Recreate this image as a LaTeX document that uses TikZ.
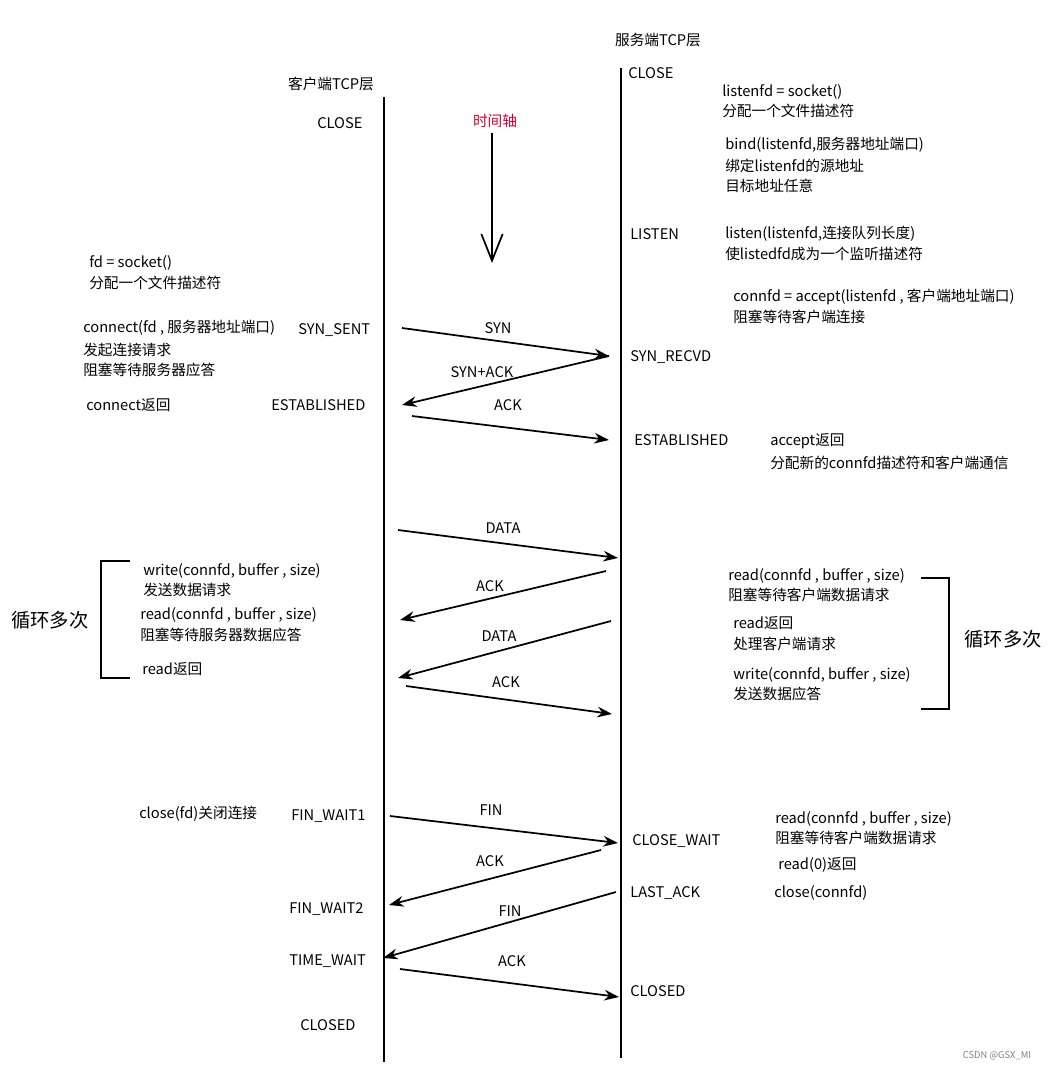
\documentclass[tikz,border=0pt]{standalone}
\usepackage{fontspec}
\setmainfont{Noto Sans CJK SC}
\usetikzlibrary{arrows.meta}
\begin{document}
\begin{tikzpicture}[x=0.75pt,y=-0.75pt,
  t/.style={anchor=west,inner sep=0pt,font=\fontsize{11}{13}\selectfont},
  lab/.style={inner sep=0pt,font=\fontsize{11}{13}\selectfont},
  msg/.style={line width=1.3pt,-{Stealth[length=11pt,width=8pt]}},
  big/.style={inner sep=0pt,font=\fontsize{14.5}{17}\selectfont},
  brk/.style={line width=1.3pt}]
\useasboundingbox (0,0) rectangle (1054,1072);
% life lines
\coordinate (c0) at (384,97); \coordinate (c1) at (384,1062);
\coordinate (s0) at (621,68); \coordinate (s1) at (621,1058);
\draw[line width=1.3pt] (c0) -- (c1);
\draw[line width=1.3pt] (s0) -- (s1);
\node[lab] (hs) at (658,40) {服务端TCP层};
\node[lab] (hc) at (331,84) {客户端TCP层};
% time axis
\node[lab,text=red!80!blue] (tl) at (495,121) {时间轴};
\coordinate (ta) at (492,133); \coordinate (tb) at (492,263);
\draw[line width=1.3pt,-{Straight Barb[length=20pt,width=16pt,line width=1.3pt]}] (ta) -- (tb);
% server texts
\node[t] (n1) at (628,73) {CLOSE};
\node[t] (n2) at (722,92) {listenfd = socket()};
\node[t] (n3) at (722,111) {分配一个文件描述符};
\node[t] (n4) at (725,145) {bind(listenfd,服务器地址端口)};
\node[t] (n5) at (725,166) {绑定listenfd的源地址};
\node[t] (n6) at (725,186) {目标地址任意};
\node[t] (n7) at (630,234) {LISTEN};
\node[t] (n8) at (725,234) {listen(listenfd,连接队列长度)};
\node[t] (n9) at (725,254) {使listedfd成为一个监听描述符};
\node[t] (n10) at (733,297) {connfd = accept(listenfd , 客户端地址端口)};
\node[t] (n11) at (733,317) {阻塞等待客户端连接};
\node[t] (n12) at (630,357) {SYN\_RECVD};
\node[t] (n13) at (634,440) {ESTABLISHED};
\node[t] (n14) at (770,441) {accept返回};
\node[t] (n15) at (770,463) {分配新的connfd描述符和客户端通信};
\node[t] (n16) at (728,576) {read(connfd , buffer , size)};
\node[t] (n17) at (728,595) {阻塞等待客户端数据请求};
\node[t] (n18) at (733,623) {read返回};
\node[t] (n19) at (733,644) {处理客户端请求};
\node[t] (n20) at (733,675) {write(connfd, buffer , size)};
\node[t] (n21) at (733,694) {发送数据应答};
\node[t] (n22) at (632,841) {CLOSE\_WAIT};
\node[t] (n23) at (775,819) {read(connfd , buffer , size)};
\node[t] (n24) at (775,838) {阻塞等待客户端数据请求};
\node[t] (n25) at (778,865) {read(0)返回};
\node[t] (n26) at (630,893) {LAST\_ACK};
\node[t] (n27) at (774,893) {close(connfd)};
\node[t] (n28) at (630,991) {CLOSED};
% client texts
\node[t] (m1) at (317,123) {CLOSE};
\node[t] (m2) at (89,263) {fd = socket()};
\node[t] (m3) at (89,283) {分配一个文件描述符};
\node[t] (m4) at (83,328) {connect(fd , 服务器地址端口)};
\node[t] (m5) at (83,350) {发起连接请求};
\node[t] (m6) at (83,370) {阻塞等待服务器应答};
\node[t] (m7) at (298,330) {SYN\_SENT};
\node[t] (m8) at (86,405) {connect返回};
\node[t] (m9) at (271,405) {ESTABLISHED};
\node[t] (m10) at (143,571) {write(connfd, buffer , size)};
\node[t] (m11) at (143,590) {发送数据请求};
\node[t] (m12) at (140,615) {read(connfd , buffer , size)};
\node[t] (m13) at (140,635) {阻塞等待服务器数据应答};
\node[t] (m14) at (142,669) {read返回};
\node[t] (m15) at (139,814) {close(fd)关闭连接};
\node[t] (m16) at (291,816) {FIN\_WAIT1};
\node[t] (m17) at (289,909) {FIN\_WAIT2};
\node[t] (m18) at (289,961) {TIME\_WAIT};
\node[t] (m19) at (300,1025) {CLOSED};
% brackets
\coordinate (b1) at (130,561); \coordinate (b2) at (101,561);
\coordinate (b3) at (101,678); \coordinate (b4) at (130,678);
\draw[brk] (b1) -- (b2) -- (b3) -- (b4);
\coordinate (r1) at (921,578); \coordinate (r2) at (949,578);
\coordinate (r3) at (949,709); \coordinate (r4) at (921,709);
\draw[brk] (r1) -- (r2) -- (r3) -- (r4);
\node[big] (L1) at (50,620) {循环多次};
\node[big] (L2) at (1003,639) {循环多次};
% messages
\coordinate (a1) at (402,328); \coordinate (a2) at (609,356);
\coordinate (a3) at (609,356); \coordinate (a4) at (402,405);
\coordinate (a5) at (412,416); \coordinate (a6) at (609,440);
\coordinate (a7) at (398,530); \coordinate (a8) at (618,558);
\coordinate (a9) at (606,571); \coordinate (a10) at (400,620);
\coordinate (a11) at (611,621); \coordinate (a12) at (398,678);
\coordinate (a13) at (406,686); \coordinate (a14) at (612,714);
\coordinate (a15) at (390,816); \coordinate (a16) at (618,843);
\coordinate (a17) at (601,850); \coordinate (a18) at (389,905);
\coordinate (a19) at (616,892); \coordinate (a20) at (383,958);
\coordinate (a21) at (400,969); \coordinate (a22) at (619,997);
\draw[msg] (a1) -- (a2); \draw[msg] (a3) -- (a4);
\draw[msg] (a5) -- (a6); \draw[msg] (a7) -- (a8);
\draw[msg] (a9) -- (a10); \draw[msg] (a11) -- (a12);
\draw[msg] (a13) -- (a14); \draw[msg] (a15) -- (a16);
\draw[msg] (a17) -- (a18); \draw[msg] (a19) -- (a20);
\draw[msg] (a21) -- (a22);
\node[lab] (k1) at (498,328) {SYN};
\node[lab] (k2) at (482,372) {SYN+ACK};
\node[lab] (k3) at (508,405) {ACK};
\node[lab] (k4) at (503,528) {DATA};
\node[lab] (k5) at (490,586) {ACK};
\node[lab] (k6) at (499,636) {DATA};
\node[lab] (k7) at (506,682) {ACK};
\node[lab] (k8) at (491,810) {FIN};
\node[lab] (k9) at (490,861) {ACK};
\node[lab] (k10) at (510,911) {FIN};
\node[lab] (k11) at (512,961) {ACK};
\node[lab,text=gray,font=\fontsize{7}{8}\selectfont] (wm) at (997,1056) {CSDN @GSX\_MI};
\end{tikzpicture}
\end{document}
